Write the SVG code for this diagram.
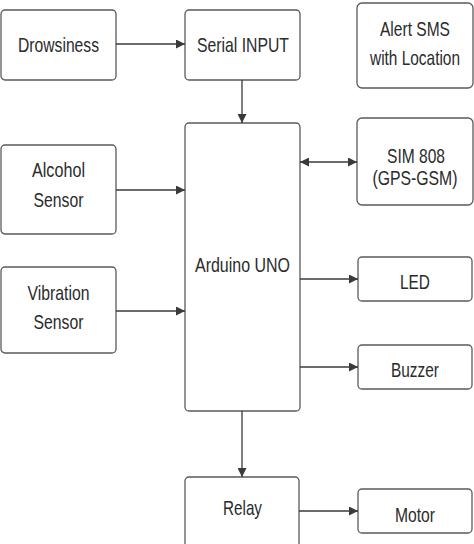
<svg xmlns="http://www.w3.org/2000/svg" width="474" height="544" viewBox="0 0 474 544">
<style>
.box{fill:#fff;stroke:#5a5a5a;stroke-width:1.3}
.t{font-family:"Liberation Sans",Arial,sans-serif;font-size:21px;fill:#2b2b2b;text-anchor:middle}
.c{stroke:#3a3a3a;stroke-width:1.3;fill:none}
</style>
<defs>
<marker id="ah" viewBox="0 0 10 10" refX="10" refY="5" markerWidth="11" markerHeight="9" markerUnits="userSpaceOnUse" orient="auto-start-reverse">
<path d="M0,0 L10,5 L0,10 z" fill="#3a3a3a"/>
</marker>
</defs>
<rect width="474" height="544" fill="#fff"/>
<g id="drowsiness"><rect class="box" x="1" y="10" width="115" height="70" rx="4"/><text class="t" x="58.5" y="52" textLength="81" lengthAdjust="spacingAndGlyphs">Drowsiness</text></g>
<g id="serial"><rect class="box" x="185" y="10" width="115" height="70" rx="4"/><text class="t" x="243" y="52" textLength="92" lengthAdjust="spacingAndGlyphs">Serial INPUT</text></g>
<g id="alert"><rect class="box" x="357" y="3" width="116" height="85" rx="5"/><text class="t" x="415" y="36" textLength="70" lengthAdjust="spacingAndGlyphs">Alert SMS</text><text class="t" x="415" y="65" textLength="90" lengthAdjust="spacingAndGlyphs">with Location</text></g>
<g id="alcohol"><rect class="box" x="1" y="145" width="115" height="89" rx="4"/><text class="t" x="58.5" y="177" textLength="53" lengthAdjust="spacingAndGlyphs">Alcohol</text><text class="t" x="58.5" y="207" textLength="50" lengthAdjust="spacingAndGlyphs">Sensor</text></g>
<g id="vibration"><rect class="box" x="1" y="267" width="115" height="86" rx="4"/><text class="t" x="58.5" y="300" textLength="62" lengthAdjust="spacingAndGlyphs">Vibration</text><text class="t" x="58.5" y="329" textLength="50" lengthAdjust="spacingAndGlyphs">Sensor</text></g>
<g id="arduino"><rect class="box" x="185" y="123" width="115" height="288" rx="4"/><text class="t" x="242.5" y="272" textLength="95" lengthAdjust="spacingAndGlyphs">Arduino UNO</text></g>
<g id="sim808"><rect class="box" x="357" y="118" width="116" height="87" rx="5"/><text class="t" x="416" y="163" textLength="58" lengthAdjust="spacingAndGlyphs">SIM 808</text><text class="t" x="415" y="185" textLength="85" lengthAdjust="spacingAndGlyphs">(GPS-GSM)</text></g>
<g id="led"><rect class="box" x="358" y="257" width="114" height="44" rx="4"/><text class="t" x="415" y="289" textLength="30" lengthAdjust="spacingAndGlyphs">LED</text></g>
<g id="buzzer"><rect class="box" x="358" y="345" width="114" height="44" rx="4"/><text class="t" x="415" y="377" textLength="48" lengthAdjust="spacingAndGlyphs">Buzzer</text></g>
<g id="relay"><rect class="box" x="185" y="477" width="114" height="80" rx="4"/><text class="t" x="242.5" y="515" textLength="39" lengthAdjust="spacingAndGlyphs">Relay</text></g>
<g id="motor"><rect class="box" x="358" y="489" width="114" height="44" rx="4"/><text class="t" x="415" y="522" textLength="40" lengthAdjust="spacingAndGlyphs">Motor</text></g>
<g id="connectors">
<line class="c" x1="116" y1="44" x2="185" y2="44" marker-end="url(#ah)"/>
<line class="c" x1="242" y1="80" x2="242" y2="123" marker-end="url(#ah)"/>
<line class="c" x1="116" y1="190" x2="185" y2="190" marker-end="url(#ah)"/>
<line class="c" x1="116" y1="311" x2="185" y2="311" marker-end="url(#ah)"/>
<line class="c" x1="300" y1="162" x2="357" y2="162" marker-start="url(#ah)" marker-end="url(#ah)"/>
<line class="c" x1="300" y1="279" x2="358" y2="279" marker-end="url(#ah)"/>
<line class="c" x1="300" y1="367" x2="358" y2="367" marker-end="url(#ah)"/>
<line class="c" x1="242" y1="411" x2="242" y2="477" marker-end="url(#ah)"/>
<line class="c" x1="299" y1="511" x2="358" y2="511" marker-end="url(#ah)"/>
</g>
</svg>
